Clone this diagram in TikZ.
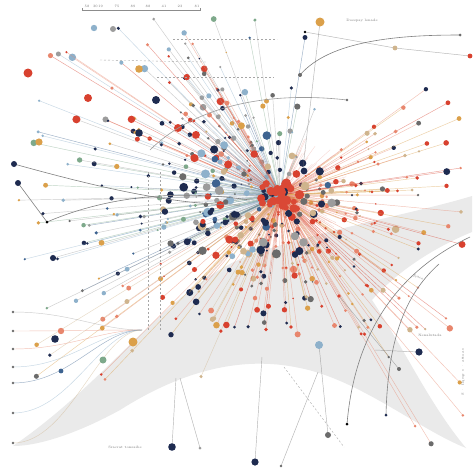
\documentclass[tikz,border=0pt]{standalone}
\usetikzlibrary{calc}

\definecolor{dotnavy}{HTML}{1E2B50}
\definecolor{dotred}{HTML}{D8412F}
\definecolor{dotsalmon}{HTML}{E8866D}
\definecolor{dotgold}{HTML}{DBA04A}
\definecolor{dotgrey}{HTML}{6B6B6B}
\definecolor{dotsilver}{HTML}{9C9C9C}
\definecolor{dotsky}{HTML}{8EB1CB}
\definecolor{dotblue}{HTML}{3D6390}
\definecolor{dotsage}{HTML}{7EA98B}
\definecolor{dottan}{HTML}{CFB48D}
\definecolor{fillgrey}{HTML}{EAEAEA}

\pgfmathdeclarerandomlist{warmlines}{{dotred}{dotsalmon}{dotsalmon}{dotgold}}
\pgfmathdeclarerandomlist{warmdots}{{dotred}{dotsalmon}{dotsalmon}{dotgold}{dotnavy}{dotgrey}{dottan}{dotred}}
\pgfmathdeclarerandomlist{goldlines}{{dotgold}{dottan}{dotsalmon}}
\pgfmathdeclarerandomlist{golddots}{{dotgold}{dottan}{dotnavy}{dotred}{dotgrey}{dotsalmon}}
\pgfmathdeclarerandomlist{coollines}{{dotsky}{dotsilver}{dotblue}{dotsage}}
\pgfmathdeclarerandomlist{cooldots}{{dotnavy}{dotgrey}{dotsky}{dotblue}{dotsilver}{dotnavy}{dotsage}{dotgold}}
\pgfmathdeclarerandomlist{mixlines}{{dotred}{dotsalmon}{dotsilver}{dotsky}}
\pgfmathdeclarerandomlist{mixdots}{{dotred}{dotnavy}{dotgrey}{dotsalmon}{dotgold}{dotsilver}{dotsky}}
\pgfmathdeclarerandomlist{hubdots}{{dotnavy}{dotred}{dotgrey}{dotblue}{dotsky}{dotnavy}{dotsilver}{dottan}}

\tikzset{
  ray/.style={line width=0.45pt, opacity=0.5},
  haze/.style={line width=0.35pt, opacity=0.22},
  wire/.style={line width=0.6pt, draw=dotgrey!85},
  gridline/.style={dashed, dash pattern=on 2pt off 2pt, line width=0.4pt, draw=black!35},
  legend/.style={font=\fontsize{3.4}{4}\selectfont, text=black!55, inner sep=0pt}
}

% rays: count, first angle, spread, line list, dot list, lowest y
\newcommand\raysector[6]{%
  \foreach \i in {1,...,#1}{
    \pgfmathsetmacro\ang{#2+#3*rnd}
    \pgfmathsetmacro\cx{cos(\ang)}
    \pgfmathsetmacro\sy{sin(\ang)}
    \pgfmathsetmacro\rx{\cx>0 ? 186/max(\cx,0.02) : 264/max(abs(\cx),0.02)}
    \pgfmathsetmacro\ry{\sy>0 ? (#6-195)/max(\sy,0.02) : 176/max(abs(\sy),0.02)}
    \pgfmathsetmacro\rr{min(\rx,\ry)*(0.2+0.8*rnd)}
    \pgfmathsetmacro\rd{1.2+3.4*rnd*rnd}
    \pgfmathsetmacro\fr{0.35+0.5*rnd}
    \pgfmathsetmacro\rm{0.8+1.9*rnd}
    \pgfmathrandomitem\lc{#4}
    \pgfmathrandomitem\dc{#5}
    \coordinate (tip) at ($(hub)+(\ang:\rr)$);
    \draw[ray, draw=\lc] (hub) -- (tip);
    \fill[\dc] (tip) circle (\rd pt);
    \pgfmathrandomitem\dc{#5}
    \fill[\dc] ($(hub)!\fr!(tip)$) circle (\rm pt);
  }%
}

\begin{document}
\begin{tikzpicture}[x=1pt, y=-1pt]
  \useasboundingbox (0,0) rectangle (474,474);
  \fill[white] (0,0) rectangle (474,474);
  \pgfmathsetseed{31}

  % grey ribbon
  \fill[fillgrey] (13,446) .. controls (110,380) and (170,285) .. (250,255)
    .. controls (330,228) and (420,212) .. (472,196) -- (472,232)
    .. controls (440,245) and (400,268) .. (372,300)
    .. controls (405,350) and (430,405) .. (466,448)
    .. controls (420,430) and (360,380) .. (300,368)
    .. controls (240,355) and (180,372) .. (120,410)
    .. controls (80,432) and (40,446) .. cycle;

  \coordinate (hub) at (280,195);

  % haze round the hub
  \foreach \i in {1,...,140}{
    \pgfmathsetmacro\ang{-70+220*rnd}
    \pgfmathsetmacro\rr{15+55*rnd}
    \draw[haze, draw=dotred] (hub) -- ++(\ang:\rr);
  }
  \foreach \i in {1,...,60}{
    \pgfmathsetmacro\ang{150+70*rnd}
    \pgfmathsetmacro\rr{20+70*rnd}
    \draw[haze, draw=dotblue] (hub) -- ++(\ang:\rr);
  }

  % rays by sector
  \raysector{80}{-38}{98}{warmlines}{warmdots}{465}
  \raysector{45}{60}{50}{warmlines}{warmdots}{340}
  \raysector{40}{110}{40}{goldlines}{golddots}{380}
  \raysector{50}{150}{50}{coollines}{cooldots}{465}
  \raysector{60}{200}{45}{mixlines}{mixdots}{465}
  \raysector{15}{245}{55}{coollines}{cooldots}{465}

  % dense cluster
  \foreach \i in {1,...,95}{
    \pgfmathsetmacro\ang{360*rnd}
    \pgfmathsetmacro\rr{0.15+0.85*rnd}
    \pgfmathsetmacro\rd{2.2+2.4*rnd}
    \pgfmathrandomitem\dc{hubdots}
    \fill[\dc] ($(245,205)+({100*\rr*cos(\ang)},{62*\rr*sin(\ang)})$) circle (\rd pt);
  }
  \foreach \i in {1,...,26}{
    \pgfmathsetmacro\ang{360*rnd}
    \pgfmathsetmacro\rr{22*rnd}
    \pgfmathsetmacro\rd{2.7+2*rnd}
    \fill[dotred!90!dotsalmon] ($(hub)+(\ang:\rr)$) circle (\rd pt);
  }

  % curves and spokes
  \coordinate (knot) at (142,330);
  \foreach \y/\col in {312/dotsilver, 331/dotsalmon, 349/dotsalmon, 367/dotsky, 383/dotblue, 413/dotsky, 443/dottan}{
    \coordinate (edge\y) at (13,\y);
    \draw[ray, draw=\col] (edge\y) .. controls (70,\y) and (100,330) .. (knot);
    \fill[dotgrey] (edge\y) circle (1.4pt);
  }
  \fill[dotgold] (133,342) circle (4.5pt);
  \fill[dotsage] (103,360) circle (3.5pt);
  \fill[dotnavy] (55,339) circle (3.8pt);
  \fill[dotsalmon] (61,331) circle (3.2pt);
  \fill[dotblue] (61,371) circle (2.4pt);

  % big dots upper left
  \foreach \x/\y/\col/\rad in {28/73/dotred/4.5, 88/98/dotred/4, 156/100/dotnavy/4,
      139/69/dotgold/3.8, 94/28/dotsky/3.2, 113/29/dotsilver/3,
      39/142/dotgold/3.6, 139/133/dotnavy/3.8, 178/128/dotred/4}
    \fill[\col] (\x,\y) circle (\rad pt);

  \coordinate (a1) at (14,164);
  \coordinate (a2) at (240,205);
  \draw[wire] (a1) .. controls (90,185) and (170,205) .. (a2);
  \coordinate (b0) at (18,183);
  \coordinate (b1) at (47,222);
  \coordinate (b2) at (250,200);
  \draw[wire] (b0) -- (b1) .. controls (110,195) and (180,190) .. (b2);
  \fill[dotnavy] (a1) circle (3pt);
  \fill[dotnavy] (b0) circle (3pt);
  \fill[black] (b1) circle (1.5pt);
  \coordinate (c1) at (300,75);
  \coordinate (c2) at (460,35);
  \draw[wire] (c1) .. controls (330,40) and (400,35) .. (c2);
  \fill[dotgrey] (c1) circle (2pt);
  \fill[dotgrey] (c2) circle (1.5pt);
  \coordinate (d1) at (150,150);
  \coordinate (d2) at (347,100);
  \draw[wire, draw=dotsilver] (d1) .. controls (190,110) and (260,90) .. (d2);
  \fill[dotgrey] (d2) circle (1.3pt);
  \coordinate (e1) at (347,424);
  \coordinate (e2) at (470,237);
  \draw[wire] (e1) .. controls (355,330) and (400,270) .. (e2);
  \fill[black] (e1) circle (1.5pt);
  \coordinate (f1) at (386,415);
  \coordinate (f2) at (439,264);
  \draw[wire] (f1) .. controls (388,330) and (410,290) .. (f2);
  \fill[dotnavy] (f1) circle (1.5pt);

  \foreach \ax/\ay/\bx/\by/\col/\rad in {
      320/22/303/168/dotgold/4.5, 255/462/262/357/dotnavy/3.6,
      281/466/318/372/dotgrey/1.4, 319/345/328/435/dotsky/4,
      172/447/176/378/dotnavy/3.8, 200/448/180/378/dotsilver/1.5,
      339/296/399/369/dotred/1.8, 305/32/395/48/black/1.4,
      395/48/470/56/dottan/2.4, 419/352/375/350/dotnavy/3.6}{
    \coordinate (p) at (\ax,\ay);
    \coordinate (q) at (\bx,\by);
    \draw[ray, draw=dotgrey] (p) -- (q);
    \fill[\col] (p) circle (\rad pt);
  }
  \fill[dotgrey] (328,435) circle (3pt);
  \fill[dotgrey] (399,369) circle (2pt);
  \fill[dotred] (470,56) circle (2.4pt);

  % dashed guides
  \foreach \ax/\ay/\bx/\by in {148/172/148/330, 160/172/160/330, 173/39/277/39,
      157/77/274/77, 100/60/207/62, 284/367/344/447}{
    \coordinate (g1) at (\ax,\ay);
    \coordinate (g2) at (\bx,\by);
    \draw[gridline] (g1) -- (g2);
  }

  % labels
  \draw[black!45, line width=0.4pt] (82,8) -- (82,10) -- (200,10) -- (200,8);
  \foreach \x/\t [count=\k] in {87/58, 98/30\,19, 117/75, 133/89, 148/88, 164/41, 180/23, 197/81}
    \node[legend] (tick\k) at (\x,6) {\t};
  \node[legend] (top) at (362,21) {Dosspay lenade};
  \node[legend] (bottom) at (125,447) {Sracrat tonsaibe};
  \node[legend, rotate=-18] (trace) at (418,277) {Trace};
  \node[legend] (side) at (430,335) {Nenalutada};
  \node[legend, rotate=90] (scale) at (463,372) {S \,·\, Ilqeqr s \,·\, attoa s};
\end{tikzpicture}
\end{document}
